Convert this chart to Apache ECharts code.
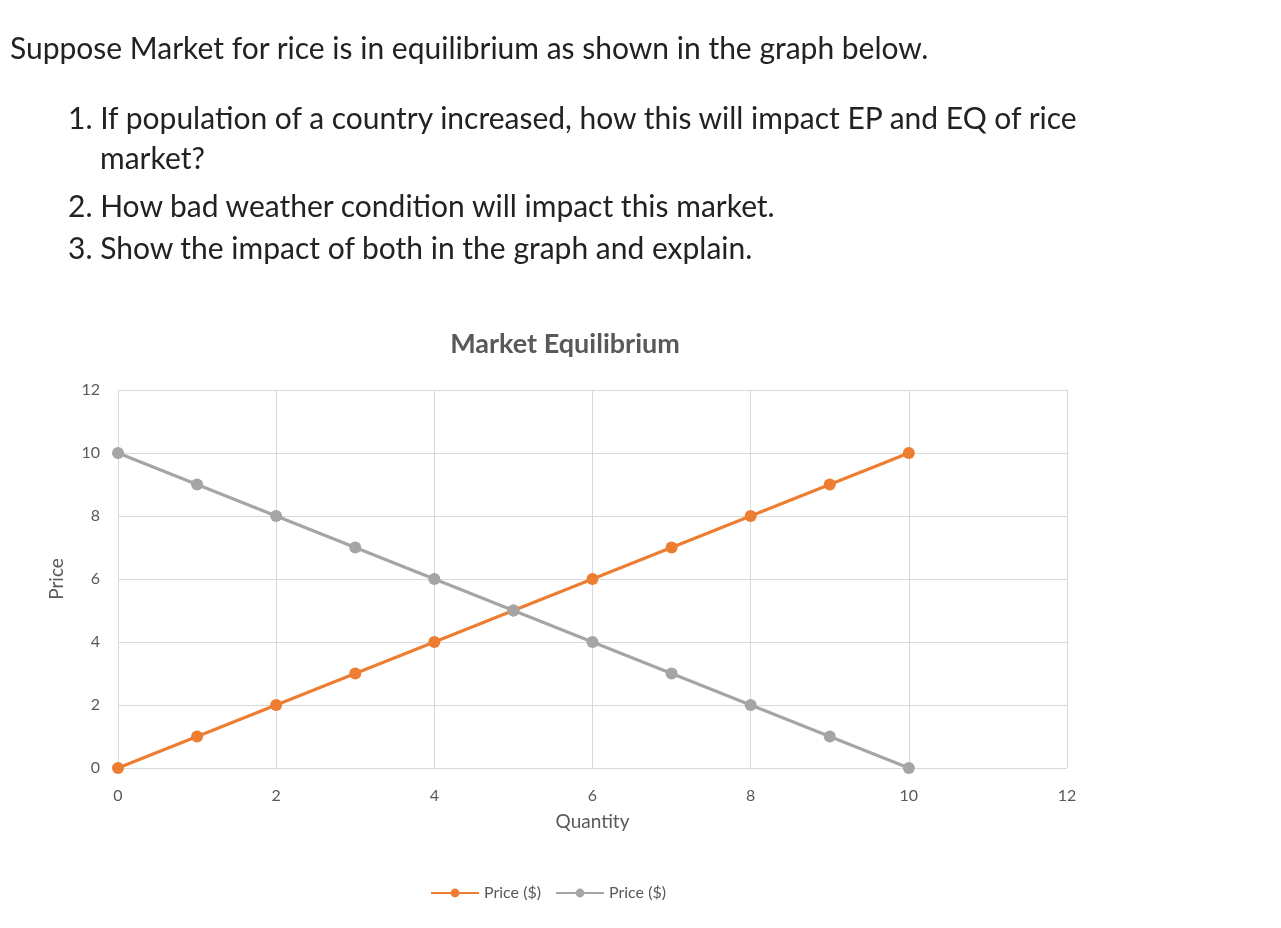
<!DOCTYPE html>
<html><head><meta charset="utf-8">
<script src="https://cdn.jsdelivr.net/npm/echarts@6/dist/echarts.min.js"></script>
<style>
body{margin:0;background:#fff;font-family:Lato,"Open Sans",sans-serif;color:#222}
#txt{position:absolute;left:0;top:0;z-index:2;font-size:30px;line-height:1.3}
#txt p{margin:0;position:absolute;white-space:nowrap}
#c{position:absolute;left:0;top:0;width:1281px;height:928px}
</style></head><body>
<div id="c"></div>
<div id="txt">
<p style="left:10px;top:28px">Suppose Market for rice is in equilibrium as shown in the graph below.</p>
<p style="left:68px;top:98px">1. If population of a country increased, how this will impact EP and EQ of rice</p>
<p style="left:100px;top:138px">market?</p>
<p style="left:68px;top:186px">2. How bad weather condition will impact this market.</p>
<p style="left:68px;top:228px">3. Show the impact of both in the graph and explain.</p>
</div>
<script>
const quantity=[0,1,2,3,4,5,6,7,8,9,10];
const supply=[0,1,2,3,4,5,6,7,8,9,10];
const demand=[10,9,8,7,6,5,4,3,2,1,0];
const ch=echarts.init(document.getElementById('c'));
const lab={color:'#595959',fontSize:16,fontFamily:'Lato,sans-serif'};
ch.setOption({
 animation:false,
 title:{text:'Market Equilibrium',left:560,top:326,textAlign:'center',textStyle:{color:'#595959',fontSize:27,fontWeight:'bold',fontFamily:'Lato,sans-serif'}},
 grid:{left:118,right:214,top:390,bottom:160},
 legend:{bottom:22,left:425,itemWidth:48,itemHeight:11,itemGap:14,textStyle:lab,data:['Price ($)','Price ($) ']},
 xAxis:{type:'value',min:0,max:12,interval:2,name:'Quantity',nameLocation:'middle',nameGap:44,nameTextStyle:{color:'#595959',fontSize:19,fontFamily:'Lato,sans-serif'},
  axisLine:{show:false},axisTick:{show:false},axisLabel:Object.assign({margin:20},lab),splitLine:{lineStyle:{color:'#d9d9d9'}}},
 yAxis:{type:'value',min:0,max:12,interval:2,name:'Price',nameLocation:'middle',nameGap:52,nameTextStyle:{color:'#595959',fontSize:19,fontFamily:'Lato,sans-serif'},
  axisLine:{show:false},axisTick:{show:false},axisLabel:Object.assign({margin:18},lab),splitLine:{lineStyle:{color:'#d9d9d9'}}},
 series:[
  {name:'Price ($)',type:'line',data:quantity.map((q,i)=>[q,supply[i]]),color:'#ed7d31',lineStyle:{width:3},symbol:'circle',symbolSize:12},
  {name:'Price ($) ',type:'line',data:quantity.map((q,i)=>[q,demand[i]]),color:'#a5a5a5',lineStyle:{width:3},symbol:'circle',symbolSize:12}
 ]
});
</script></body></html>
